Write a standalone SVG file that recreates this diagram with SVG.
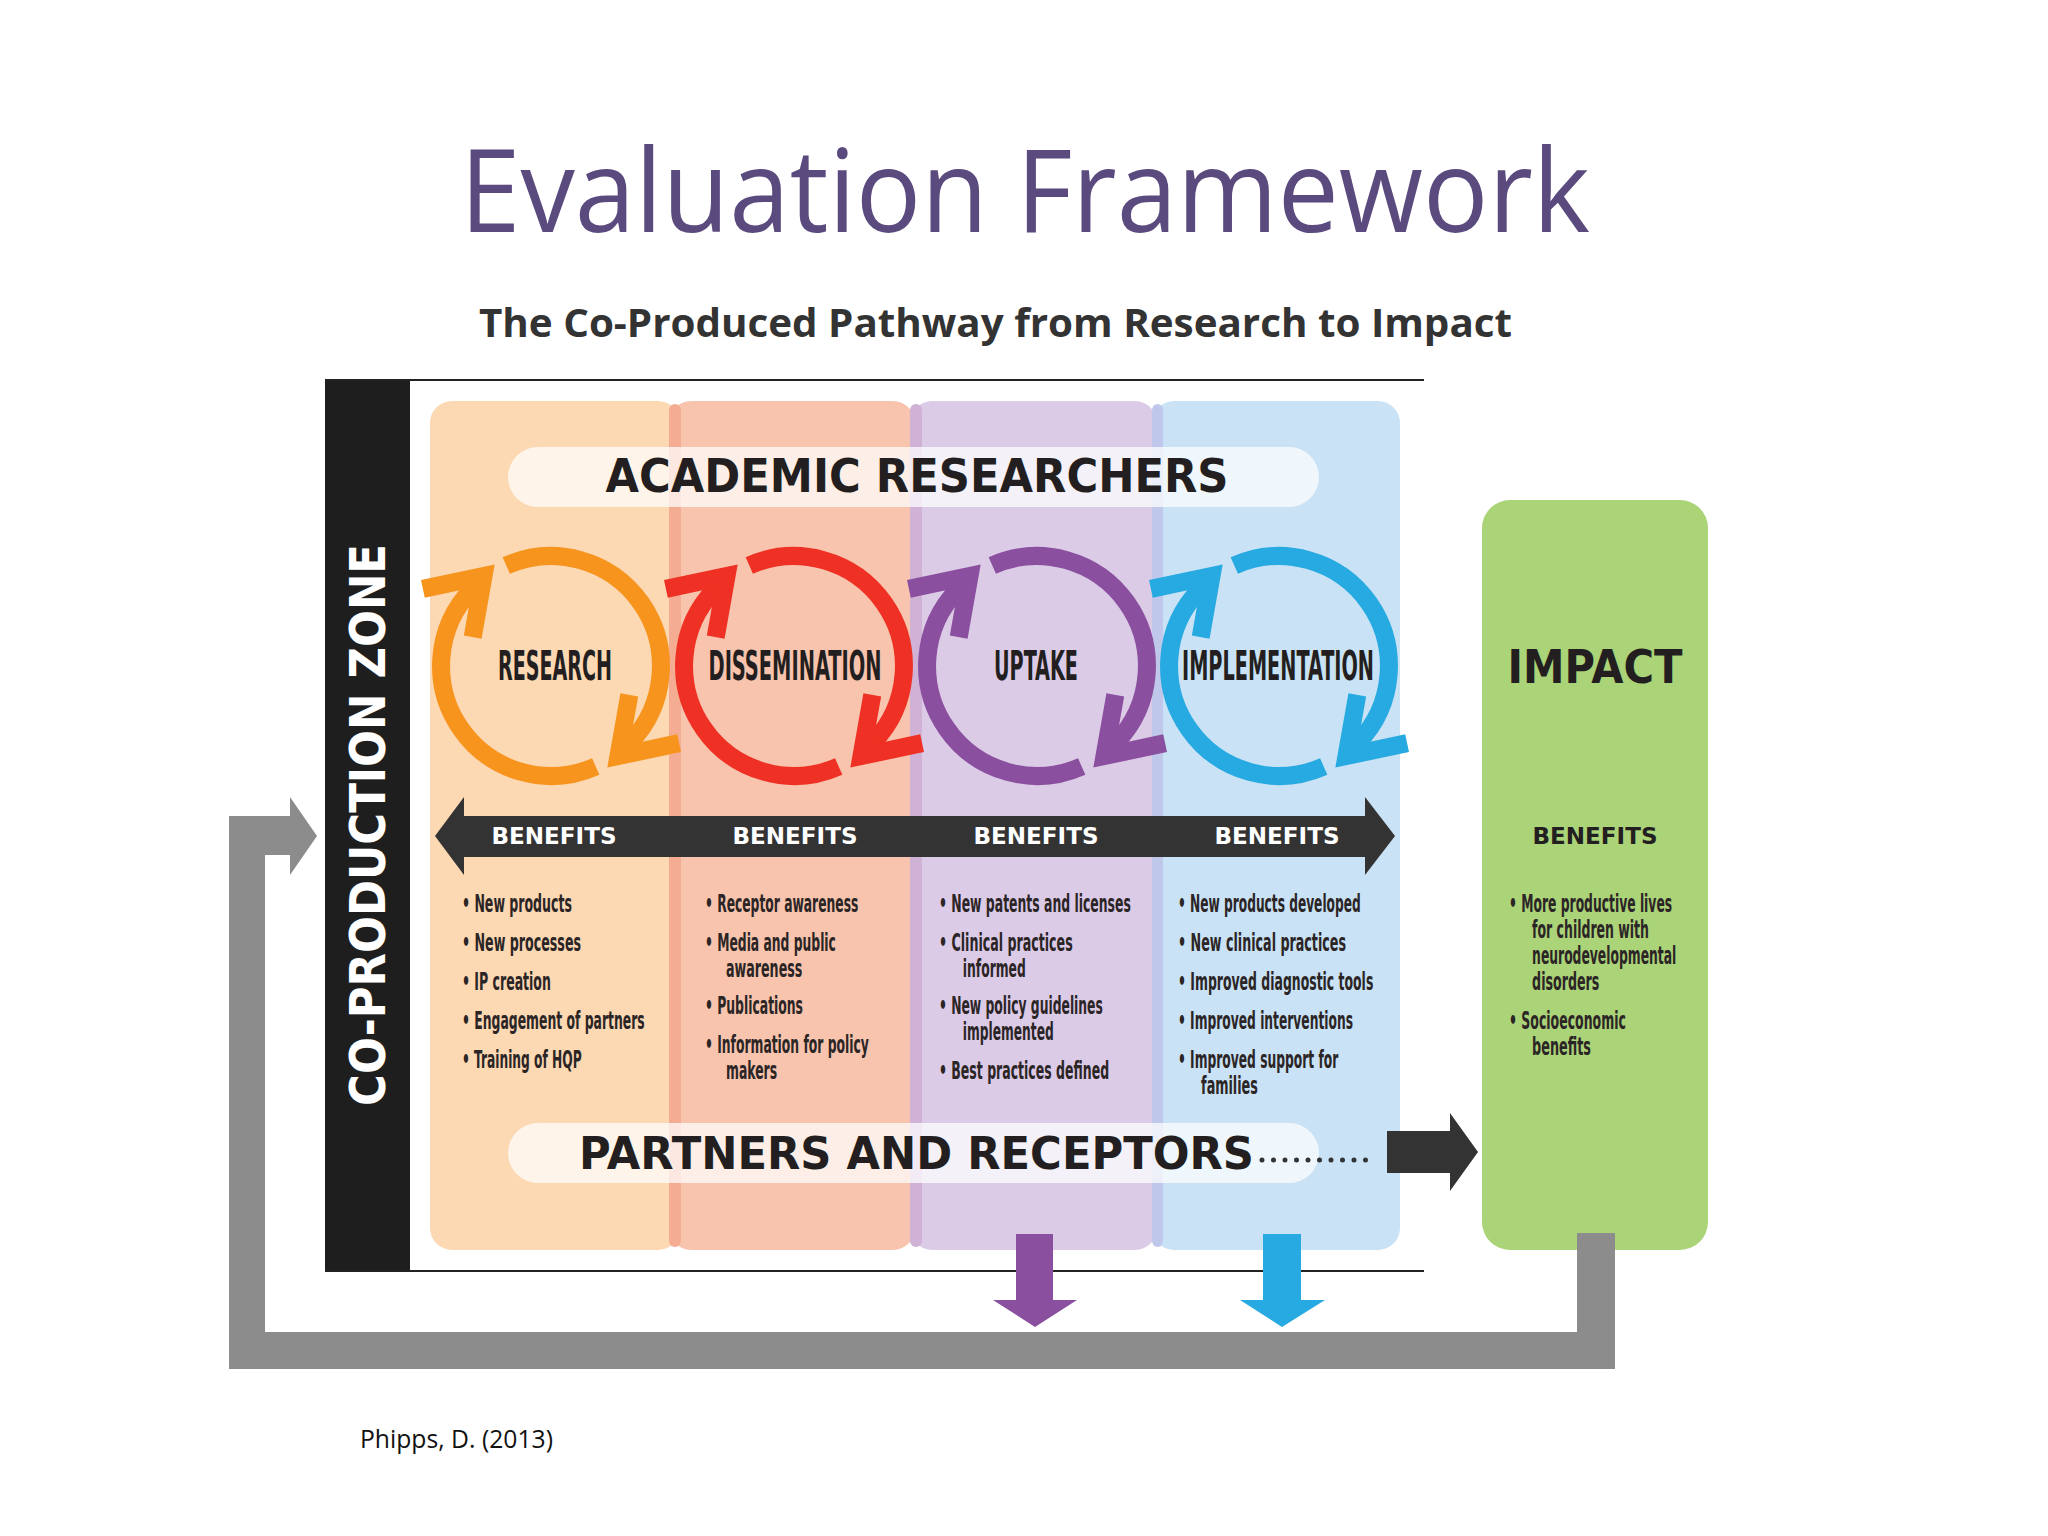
<svg xmlns="http://www.w3.org/2000/svg" width="2048" height="1536" viewBox="0 0 2048 1536">
<style>
.title{font-family:"Open Sans","Noto Sans","Liberation Sans",sans-serif;font-size:116px;fill:#5a4a7e}
.sub{font-family:"Open Sans","Liberation Sans",sans-serif;font-weight:700;font-size:40px;fill:#333333}
.hd{font-family:"DejaVu Sans","Liberation Sans",sans-serif;font-weight:700;fill:#231f20}
.cond{font-family:"Liberation Sans Narrow","DejaVu Sans Condensed","Roboto Condensed","Liberation Sans",sans-serif;font-weight:700;font-stretch:condensed;fill:#231f20}
.lbl{font-size:40px}
.bl{font-size:24px;fill:#2b2526}
.benw{font-size:23px;fill:#ffffff}
.cite{font-family:"Open Sans","Liberation Sans",sans-serif;font-size:26px;fill:#111111}
</style>
<defs>
<g id="cyc" fill="none" stroke-width="18" stroke-linejoin="miter" stroke-miterlimit="10">
<path d="M44.7,100.5 A110,110 0 0 1 -79.1,-76.4 L-67.5,-90"/>
<path d="M-128.1,-77.1 L-67.5,-90 L-78.3,-28.9"/>
<path d="M-44.7,-100.5 A110,110 0 0 1 79.1,76.4 L67.5,90"/>
<path d="M128.1,77.1 L67.5,90 L78.3,28.9"/>
</g>
</defs>
<rect width="2048" height="1536" fill="#ffffff"/>

<g id="title">
<text class="title" x="460" y="232" textLength="1130" lengthAdjust="spacingAndGlyphs">Evaluation Framework</text>
</g>
<g id="subtitle">
<text class="sub" x="479" y="337" textLength="1033" lengthAdjust="spacingAndGlyphs">The Co-Produced Pathway from Research to Impact</text>
</g>

<g id="frame">
<rect x="325" y="380" width="85" height="891" fill="#1e1e1e"/>
<line x1="325" y1="380" x2="1424" y2="380" stroke="#222222" stroke-width="2"/>
<line x1="325" y1="1271" x2="1424" y2="1271" stroke="#222222" stroke-width="2"/>
<text class="hd" x="0" y="0" transform="translate(385,825) rotate(-90)" text-anchor="middle" font-size="50" style="fill:#ffffff" textLength="562" lengthAdjust="spacingAndGlyphs">CO-PRODUCTION ZONE</text>
</g>

<g id="columns">
<rect x="430" y="401" width="250" height="849" rx="22" fill="#fcd8b3"/>
<rect x="669" y="401" width="246" height="849" rx="22" fill="#f8c4ad"/>
<rect x="669" y="404" width="12" height="843" rx="6" fill="#f4ad92"/>
<rect x="910" y="401" width="247" height="849" rx="22" fill="#dccbe7"/>
<rect x="910" y="404" width="12" height="843" rx="6" fill="#d0b2d6"/>
<rect x="1152" y="401" width="248" height="849" rx="22" fill="#c9e2f5"/>
<rect x="1152" y="404" width="11" height="843" rx="6" fill="#bfc8ea"/>
</g>

<g id="academic-researchers">
<rect x="508" y="447" width="811" height="60" rx="30" fill="#ffffff" fill-opacity="0.72"/>
<text class="hd" x="917" y="492" text-anchor="middle" font-size="46" textLength="623" lengthAdjust="spacingAndGlyphs">ACADEMIC RESEARCHERS</text>
</g>

<g id="research">
<use href="#cyc" x="551" y="666" stroke="#f7941d"/>
<text class="cond lbl" transform="translate(555,680) scale(0.5,1)" text-anchor="middle" textLength="228" lengthAdjust="spacingAndGlyphs">RESEARCH</text>
</g>
<g id="dissemination">
<use href="#cyc" x="794" y="666" stroke="#ee3124"/>
<text class="cond lbl" transform="translate(795,680) scale(0.5,1)" text-anchor="middle" textLength="346" lengthAdjust="spacingAndGlyphs">DISSEMINATION</text>
</g>
<g id="uptake">
<use href="#cyc" x="1037" y="666" stroke="#8a4f9e"/>
<text class="cond lbl" transform="translate(1036,680) scale(0.5,1)" text-anchor="middle" textLength="168" lengthAdjust="spacingAndGlyphs">UPTAKE</text>
</g>
<g id="implementation">
<use href="#cyc" x="1279" y="666" stroke="#27aae1"/>
<text class="cond lbl" transform="translate(1278,680) scale(0.5,1)" text-anchor="middle" textLength="384" lengthAdjust="spacingAndGlyphs">IMPLEMENTATION</text>
</g>

<g id="benefits-arrow">
<path d="M435,836 L464,797 L464,816 L1365,816 L1365,797 L1395,836 L1365,875 L1365,857 L464,857 L464,875 Z" fill="#333333"/>
<text class="hd benw" x="554" y="844" text-anchor="middle" textLength="125" lengthAdjust="spacingAndGlyphs">BENEFITS</text>
<text class="hd benw" x="795" y="844" text-anchor="middle" textLength="125" lengthAdjust="spacingAndGlyphs">BENEFITS</text>
<text class="hd benw" x="1036" y="844" text-anchor="middle" textLength="125" lengthAdjust="spacingAndGlyphs">BENEFITS</text>
<text class="hd benw" x="1277" y="844" text-anchor="middle" textLength="125" lengthAdjust="spacingAndGlyphs">BENEFITS</text>
</g>

<g id="research-benefits" transform="translate(462,0) scale(0.7,1)">
<text class="cond bl" x="0" y="912" textLength="157" lengthAdjust="spacingAndGlyphs">• New products</text>
<text class="cond bl" x="0" y="951" textLength="170" lengthAdjust="spacingAndGlyphs">• New processes</text>
<text class="cond bl" x="0" y="990" textLength="127" lengthAdjust="spacingAndGlyphs">• IP creation</text>
<text class="cond bl" x="0" y="1029" textLength="261" lengthAdjust="spacingAndGlyphs">• Engagement of partners</text>
<text class="cond bl" x="0" y="1068" textLength="171" lengthAdjust="spacingAndGlyphs">• Training of HQP</text>
</g>
<g id="dissemination-benefits" transform="translate(705,0) scale(0.7,1)">
<text class="cond bl" x="0" y="912" textLength="219" lengthAdjust="spacingAndGlyphs">• Receptor awareness</text>
<text class="cond bl" x="0" y="951" textLength="187" lengthAdjust="spacingAndGlyphs">• Media and public</text>
<text class="cond bl" x="30" y="977" textLength="109" lengthAdjust="spacingAndGlyphs">awareness</text>
<text class="cond bl" x="0" y="1014" textLength="140" lengthAdjust="spacingAndGlyphs">• Publications</text>
<text class="cond bl" x="0" y="1053" textLength="234" lengthAdjust="spacingAndGlyphs">• Information for policy</text>
<text class="cond bl" x="30" y="1079" textLength="73" lengthAdjust="spacingAndGlyphs">makers</text>
</g>
<g id="uptake-benefits" transform="translate(939,0) scale(0.7,1)">
<text class="cond bl" x="0" y="912" textLength="274" lengthAdjust="spacingAndGlyphs">• New patents and licenses</text>
<text class="cond bl" x="0" y="951" textLength="191" lengthAdjust="spacingAndGlyphs">• Clinical practices</text>
<text class="cond bl" x="34" y="977" textLength="90" lengthAdjust="spacingAndGlyphs">informed</text>
<text class="cond bl" x="0" y="1014" textLength="234" lengthAdjust="spacingAndGlyphs">• New policy guidelines</text>
<text class="cond bl" x="34" y="1040" textLength="130" lengthAdjust="spacingAndGlyphs">implemented</text>
<text class="cond bl" x="0" y="1079" textLength="243" lengthAdjust="spacingAndGlyphs">• Best practices defined</text>
</g>
<g id="implementation-benefits" transform="translate(1178,0) scale(0.7,1)">
<text class="cond bl" x="0" y="912" textLength="261" lengthAdjust="spacingAndGlyphs">• New products developed</text>
<text class="cond bl" x="0" y="951" textLength="240" lengthAdjust="spacingAndGlyphs">• New clinical practices</text>
<text class="cond bl" x="0" y="990" textLength="279" lengthAdjust="spacingAndGlyphs">• Improved diagnostic tools</text>
<text class="cond bl" x="0" y="1029" textLength="250" lengthAdjust="spacingAndGlyphs">• Improved interventions</text>
<text class="cond bl" x="0" y="1068" textLength="229" lengthAdjust="spacingAndGlyphs">• Improved support for</text>
<text class="cond bl" x="33" y="1094" textLength="81" lengthAdjust="spacingAndGlyphs">families</text>
</g>

<g id="partners-and-receptors">
<rect x="508" y="1123" width="811" height="60" rx="30" fill="#ffffff" fill-opacity="0.72"/>
<text class="hd" x="579" y="1169" font-size="45" textLength="675" lengthAdjust="spacingAndGlyphs">PARTNERS AND RECEPTORS</text>
<line x1="1262" y1="1160" x2="1375" y2="1160" stroke="#333333" stroke-width="5" stroke-linecap="round" stroke-dasharray="0 11.5"/>
<path d="M1387,1131 L1450,1131 L1450,1113 L1478,1152 L1450,1191 L1450,1173 L1387,1173 Z" fill="#333333"/>
</g>

<g id="impact">
<rect x="1482" y="500" width="226" height="750" rx="28" fill="#abd378"/>
<text class="hd" x="1595" y="683" text-anchor="middle" font-size="47" textLength="175" lengthAdjust="spacingAndGlyphs">IMPACT</text>
<text class="hd" x="1595" y="844" text-anchor="middle" font-size="23" fill="#333333" textLength="125" lengthAdjust="spacingAndGlyphs">BENEFITS</text>
<g transform="translate(1509,0) scale(0.7,1)">
<text class="cond bl" x="0" y="912" textLength="233" lengthAdjust="spacingAndGlyphs">• More productive lives</text>
<text class="cond bl" x="33" y="938" textLength="167" lengthAdjust="spacingAndGlyphs">for children with</text>
<text class="cond bl" x="33" y="964" textLength="206" lengthAdjust="spacingAndGlyphs">neurodevelopmental</text>
<text class="cond bl" x="33" y="990" textLength="96" lengthAdjust="spacingAndGlyphs">disorders</text>
<text class="cond bl" x="0" y="1029" textLength="167" lengthAdjust="spacingAndGlyphs">• Socioeconomic</text>
<text class="cond bl" x="33" y="1055" textLength="84" lengthAdjust="spacingAndGlyphs">benefits</text>
</g>
</g>

<g id="connectors">
<path id="feedback" d="M1577,1233 L1615,1233 L1615,1369 L229,1369 L229,816 L290,816 L290,797 L317,836 L290,875 L290,855 L265,855 L265,1332 L1577,1332 Z" fill="#8c8c8c"/>
<path id="down-uptake" d="M1016,1234 L1053,1234 L1053,1300 L1077,1300 L1035,1327 L993,1300 L1016,1300 Z" fill="#8a4f9e"/>
<path id="down-impl" d="M1263,1234 L1301,1234 L1301,1300 L1325,1300 L1282,1327 L1240,1300 L1263,1300 Z" fill="#27aae1"/>
</g>

<g id="citation">
<text class="cite" x="360" y="1448" textLength="193" lengthAdjust="spacingAndGlyphs">Phipps, D. (2013)</text>
</g>
</svg>
